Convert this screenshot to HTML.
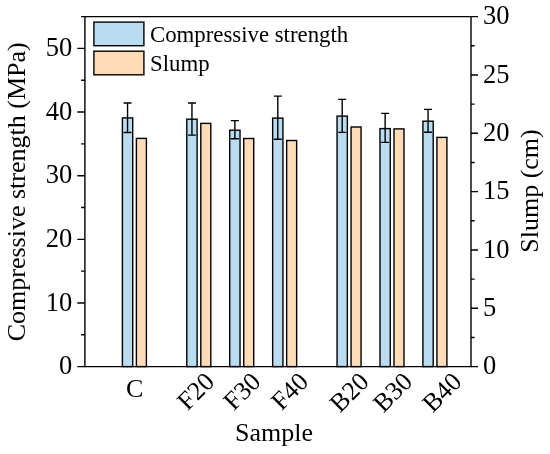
<!DOCTYPE html>
<html><head><meta charset="utf-8"><style>
html,body{margin:0;padding:0;background:#fff;}
svg{display:block;}
text{font-family:"Liberation Serif","Times New Roman",serif;fill:#000;}
</style></head><body>
<svg width="550" height="454" viewBox="0 0 550 454">
<rect x="122.40" y="117.90" width="10.3" height="248.70" fill="#B9DCF1" stroke="#000" stroke-width="1.4"/>
<rect x="136.40" y="138.40" width="10.0" height="228.20" fill="#FFDBB8" stroke="#000" stroke-width="1.4"/>
<path d="M127.55 103.00V132.50M123.55 103.00H131.55M123.55 132.50H131.55" stroke="#000" stroke-width="1.4" fill="none"/>
<rect x="186.80" y="119.20" width="10.3" height="247.40" fill="#B9DCF1" stroke="#000" stroke-width="1.4"/>
<rect x="200.80" y="123.40" width="10.0" height="243.20" fill="#FFDBB8" stroke="#000" stroke-width="1.4"/>
<path d="M191.95 103.00V135.10M187.95 103.00H195.95M187.95 135.10H195.95" stroke="#000" stroke-width="1.4" fill="none"/>
<rect x="229.73" y="130.20" width="10.3" height="236.40" fill="#B9DCF1" stroke="#000" stroke-width="1.4"/>
<rect x="243.73" y="138.50" width="10.0" height="228.10" fill="#FFDBB8" stroke="#000" stroke-width="1.4"/>
<path d="M234.88 120.60V138.70M230.88 120.60H238.88M230.88 138.70H238.88" stroke="#000" stroke-width="1.4" fill="none"/>
<rect x="272.65" y="118.10" width="10.3" height="248.50" fill="#B9DCF1" stroke="#000" stroke-width="1.4"/>
<rect x="286.65" y="140.50" width="10.0" height="226.10" fill="#FFDBB8" stroke="#000" stroke-width="1.4"/>
<path d="M277.80 96.10V139.20M273.80 96.10H281.80M273.80 139.20H281.80" stroke="#000" stroke-width="1.4" fill="none"/>
<rect x="337.05" y="116.10" width="10.3" height="250.50" fill="#B9DCF1" stroke="#000" stroke-width="1.4"/>
<rect x="351.05" y="127.00" width="10.0" height="239.60" fill="#FFDBB8" stroke="#000" stroke-width="1.4"/>
<path d="M342.20 99.40V132.40M338.20 99.40H346.20M338.20 132.40H346.20" stroke="#000" stroke-width="1.4" fill="none"/>
<rect x="379.98" y="128.60" width="10.3" height="238.00" fill="#B9DCF1" stroke="#000" stroke-width="1.4"/>
<rect x="393.98" y="128.90" width="10.0" height="237.70" fill="#FFDBB8" stroke="#000" stroke-width="1.4"/>
<path d="M385.13 113.40V142.40M381.13 113.40H389.13M381.13 142.40H389.13" stroke="#000" stroke-width="1.4" fill="none"/>
<rect x="422.91" y="121.20" width="10.3" height="245.40" fill="#B9DCF1" stroke="#000" stroke-width="1.4"/>
<rect x="436.91" y="137.40" width="10.0" height="229.20" fill="#FFDBB8" stroke="#000" stroke-width="1.4"/>
<path d="M428.06 109.40V132.20M424.06 109.40H432.06M424.06 132.20H432.06" stroke="#000" stroke-width="1.4" fill="none"/>
<path d="M84.9 16.6V366.6H471.0V16.6H84.9" stroke="#000" stroke-width="1.4" fill="none" stroke-linecap="square"/>
<path d="M77.30 366.60H84.9 M81.10 334.78H84.9 M77.30 302.96H84.9 M81.10 271.15H84.9 M77.30 239.33H84.9 M81.10 207.51H84.9 M77.30 175.69H84.9 M81.10 143.87H84.9 M77.30 112.05H84.9 M81.10 80.24H84.9 M77.30 48.42H84.9 M81.10 16.60H84.9 M471.0 366.60H478.00 M471.0 337.43H474.60 M471.0 308.27H478.00 M471.0 279.10H474.60 M471.0 249.93H478.00 M471.0 220.77H474.60 M471.0 191.60H478.00 M471.0 162.43H474.60 M471.0 133.27H478.00 M471.0 104.10H474.60 M471.0 74.93H478.00 M471.0 45.77H474.60 M471.0 16.60H478.00" stroke="#000" stroke-width="1.4" fill="none"/>
<g font-size="26.5"><text x="72.2" y="374.20" text-anchor="end">0</text><text x="72.2" y="310.56" text-anchor="end">10</text><text x="72.2" y="246.93" text-anchor="end">20</text><text x="72.2" y="183.29" text-anchor="end">30</text><text x="72.2" y="119.65" text-anchor="end">40</text><text x="72.2" y="56.02" text-anchor="end">50</text><text x="482.9" y="374.20">0</text><text x="482.9" y="315.87">5</text><text x="482.9" y="257.53">10</text><text x="482.9" y="199.20">15</text><text x="482.9" y="140.87">20</text><text x="482.9" y="82.53">25</text><text x="482.9" y="24.20">30</text></g>
<text x="134.6" y="397.4" font-size="26" text-anchor="middle">C</text>
<text transform="translate(215.80 383) rotate(-45)" font-size="25.8" text-anchor="end">F20</text>
<text transform="translate(262.20 383) rotate(-45)" font-size="25.8" text-anchor="end">F30</text>
<text transform="translate(309.80 383) rotate(-45)" font-size="25.8" text-anchor="end">F40</text>
<text transform="translate(370.40 383) rotate(-45)" font-size="25.8" text-anchor="end">B20</text>
<text transform="translate(413.80 383) rotate(-45)" font-size="25.8" text-anchor="end">B30</text>
<text transform="translate(463.10 383) rotate(-45)" font-size="25.8" text-anchor="end">B40</text>
<text x="274.10" y="440.5" font-size="26" text-anchor="middle">Sample</text>
<text transform="translate(24.5 191.80) rotate(-90)" font-size="26" text-anchor="middle">Compressive strength (MPa)</text>
<text transform="translate(538 191.00) rotate(-90)" font-size="26" text-anchor="middle">Slump (cm)</text>
<rect x="93.9" y="22.1" width="50" height="23.6" fill="#B9DCF1" stroke="#000" stroke-width="1.4"/>
<rect x="93.9" y="51.2" width="50" height="23.6" fill="#FFDBB8" stroke="#000" stroke-width="1.4"/>
<text x="150" y="41.7" font-size="22.8">Compressive strength</text>
<text x="150" y="71" font-size="22.8">Slump</text>
</svg>
</body></html>
